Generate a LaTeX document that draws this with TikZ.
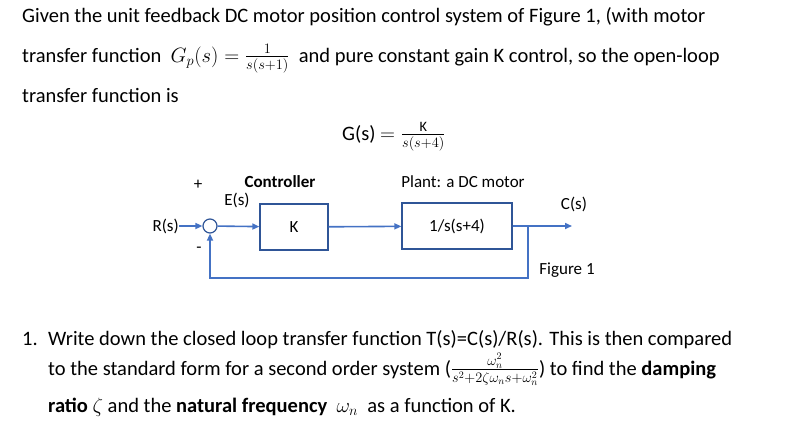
\documentclass[tikz,border=0pt]{standalone}
\usepackage{fontspec}
\setmainfont{Carlito}
\usepackage{amsmath}
\usetikzlibrary{arrows.meta}
\definecolor{ln}{RGB}{68,114,196}
\definecolor{bx}{RGB}{47,85,151}
\begin{document}
\begin{tikzpicture}[x=1pt,y=-1pt,
  txt/.style={anchor=base west,inner sep=0pt,font=\fontsize{20.5}{24}\selectfont},
  lbl/.style={inner sep=0pt,font=\fontsize{17}{20}\selectfont},
  blk/.style={draw=bx,line width=1.3pt,minimum width=#1,minimum height=46pt,inner sep=0pt,font=\fontsize{17}{20}\selectfont},
  sig/.style={draw=ln,line width=1.6pt},
  arr/.style={sig,-{Triangle[length=7pt,width=6pt]}}]
\useasboundingbox (0,0) rectangle (808,421);
\node[txt] (l1) at (22,22) {Given the unit feedback DC motor position control system of Figure 1, (with motor};
\node[txt] (l2) at (22,62) {transfer function \ $G_p(s)=\frac{1}{s(s+1)}$ \ and pure constant gain K control, so the open-loop};
\node[txt] (l3) at (22,102) {transfer function is};
\node[txt] (gs) at (342,140) {G(s) $=\frac{\text{K}}{s(s+4)}$};
\node[circle,draw=bx,line width=1.2pt,minimum size=14pt,inner sep=0pt] (sum) at (210,226) {};
\node[blk=68pt] (k) at (294,227) {K};
\node[blk=110pt] (p) at (457,226) {1/s(s+4)};
\node[lbl,anchor=east] (r) at (179,226) {R(s)};
\node[lbl] (plus) at (198,185) {+};
\node[lbl] (minus) at (199,250) {-};
\node[lbl] (e) at (237,200) {E(s)};
\node[lbl,font=\fontsize{17}{20}\selectfont\bfseries] (ctl) at (280,182) {Controller};
\node[lbl] (pl) at (463,182) {Plant: a DC motor};
\node[lbl] (c) at (574,204) {C(s)};
\node[lbl] (fig) at (567,270) {Figure 1};
\coordinate (out) at (572,226);
\coordinate (br) at (528,226);
\draw[arr] (r) -- (sum);
\draw[arr] (sum) -- (k);
\draw[arr] (k) -- (p);
\draw[arr] (p) -- (out);
\draw[arr] (br) -- (528,278) -- (210,278) -- (sum);
\node[txt] (n1) at (22,345) {1.};
\node[txt] (q1) at (48,345) {Write down the closed loop transfer function T(s)=C(s)/R(s). This is then compared};
\node[txt] (q2) at (48,375) {to the standard form for a second order system ($\frac{\omega_n^2}{s^2+2\zeta\omega_n s+\omega_n^2}$) to find the \textbf{damping}};
\node[txt] (q3) at (48,412) {\textbf{ratio} $\zeta$ and the \textbf{natural frequency} \ $\omega_n$ \ as a function of K.};
\end{tikzpicture}
\end{document}
